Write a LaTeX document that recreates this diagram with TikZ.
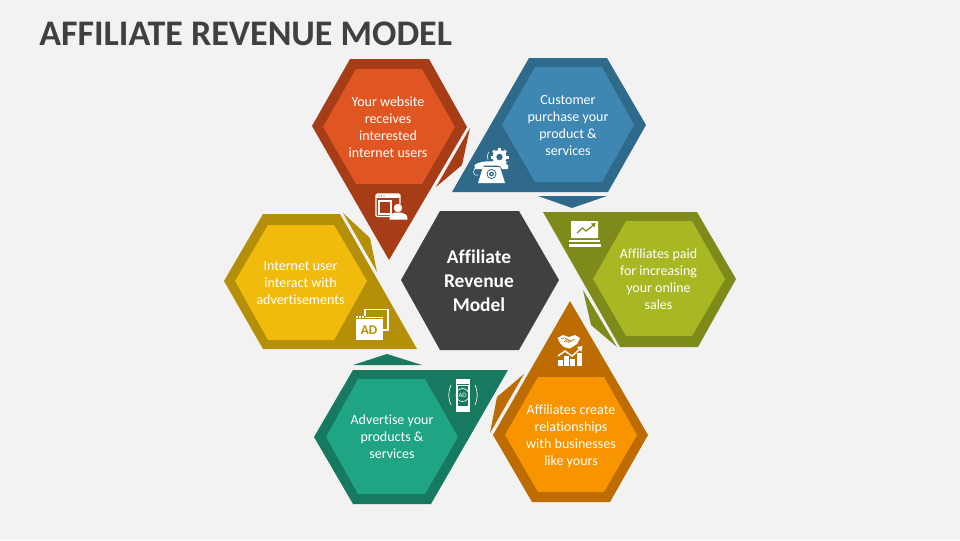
\documentclass[tikz,border=0pt]{standalone}
\usepackage{fontspec}
\setmainfont[Ligatures=NoCommon]{Carlito}
\usetikzlibrary{positioning}
\definecolor{pagebg}{HTML}{F2F2F2}
\definecolor{inkgrey}{HTML}{404040}
\definecolor{redouter}{HTML}{A63D17}
\definecolor{redinner}{HTML}{E05623}
\definecolor{blueouter}{HTML}{2F6A8B}
\definecolor{blueinner}{HTML}{3F87B3}
\definecolor{oliveouter}{HTML}{7E8A1A}
\definecolor{oliveinner}{HTML}{A8B825}
\definecolor{orangeouter}{HTML}{BC6C00}
\definecolor{orangeinner}{HTML}{F79400}
\definecolor{greenouter}{HTML}{177A60}
\definecolor{greeninner}{HTML}{1FA583}
\definecolor{yellowouter}{HTML}{B58F08}
\definecolor{yellowinner}{HTML}{F0BB0C}
\tikzset{
    hex label/.style={
        text=white,align=center,inner sep=0pt,
        font=\fontsize{10.5}{12.75}\selectfont
    },
    centre label/.style={
        text=white,align=center,inner sep=0pt,
        font=\fontsize{14.6}{18}\selectfont\bfseries
    },
    icon line/.style={draw=white,line width=.8pt,fill=none},
}

\begin{document}
\begin{tikzpicture}[x=.75pt,y=-.75pt]
    \useasboundingbox (0,0) rectangle (960,540);
    \fill[pagebg] (0,0) rectangle (960,540);
    \node[anchor=west,inner sep=0pt,text=inkgrey,font=\fontsize{27}{32}\selectfont\bfseries] (title) at (39,34) {AFFILIATE REVENUE MODEL};
    % centre
    \fill[inkgrey] (440,211) -- (519,211) -- (559,280) -- (519,350) -- (440,350) -- (401,280) -- cycle;
    \node[centre label] (centre) at (479,281) {Affiliate\\Revenue\\Model};
    % red
    \fill[redouter] (350,59) -- (429,59) -- (467,127) -- (389,260) -- (312,126) -- cycle;
    \fill[redinner] (356,69) -- (422,69) -- (455,127) -- (422,184) -- (356,184) -- (323,127) -- cycle;
    \fill[redouter] (470,128) -- (462,165) -- (436,187) -- cycle;
    \node[hex label] (website) at (388,127.5) {Your website\\receives\\interested\\internet users};
    % blue
    \fill[blueouter] (529,58) -- (607,58) -- (646,125) -- (608,192) -- (452,192) -- cycle;
    \fill[blueinner] (535,67) -- (602,67) -- (634,125) -- (602,182) -- (535,182) -- (502,125) -- cycle;
    \fill[blueouter] (538,196) -- (607,196) -- (572,208) -- cycle;
    \node[hex label] (customer) at (568,125.5) {Customer\\purchase your\\product \&\\services};
    % olive
    \fill[oliveouter] (543,212) -- (697,212) -- (736,279) -- (698,347) -- (620,347) -- cycle;
    \fill[oliveinner] (626,221) -- (692,221) -- (725,279) -- (692,336) -- (626,336) -- (593,279) -- cycle;
    \fill[oliveouter] (583,290) -- (617,347) -- (591,325) -- cycle;
    \node[hex label] (paid) at (658.5,279.5) {Affiliates paid\\for increasing\\your online\\sales};
    % orange
    \fill[orangeouter] (570,301) -- (648,435) -- (610,502) -- (532,502) -- (493,435) -- cycle;
    \fill[orangeinner] (538,377) -- (604,377) -- (637,435) -- (604,492) -- (538,492) -- (505,435) -- cycle;
    \fill[orangeouter] (524,374) -- (490,433) -- (497,397) -- cycle;
    \node[hex label] (relations) at (571,436) {Affiliates create\\relationships\\with businesses\\like yours};
    % green
    \fill[greenouter] (353,370) -- (508,370) -- (431,504) -- (353,504) -- (314,437) -- cycle;
    \fill[greeninner] (358,379) -- (425,379) -- (458,437) -- (425,494) -- (358,494) -- (326,437) -- cycle;
    \fill[greenouter] (353,365) -- (422,365) -- (387,354) -- cycle;
    \node[hex label] (advertise) at (392,437) {Advertise your\\products \&\\services};
    % yellow
    \fill[yellowouter] (263,214) -- (340,214) -- (417,349) -- (263,349) -- (224,281) -- cycle;
    \fill[yellowinner] (268,225) -- (334,225) -- (367,281) -- (334,340) -- (268,340) -- (235,281) -- cycle;
    \fill[yellowouter] (343,213) -- (377,272) -- (370,238) -- cycle;
    \node[hex label] (interact) at (300.5,283) {Internet user\\interact with\\advertisements};
    % icon: browser and user
    \draw[icon line,rounded corners=1pt,line width=1pt] (400,216.5) -- (376,216.5) -- (376,194) -- (400,194) -- (400,204);
    \fill[white] (376,194) rectangle (400,198);
    \foreach \i in {0,1,2}
        \fill[redouter] (379+2.5*\i,196) circle (.7);
    \draw[icon line] (379,201) rectangle (391,214);
    \fill[redouter] (393,205) rectangle (410,220);
    \fill[white] (398,208) circle (4.2);
    \fill[white] (389.5,219.5) -- (389.5,216) .. controls (390,213.5) and (394,213.5) .. (395,212.5) -- (401,212.5) .. controls (402,213.5) and (406,213.5) .. (407,216) -- (407.5,219.5) -- cycle;
    % icon: phone and gear
    \foreach \a in {0,45,...,315}
        \fill[white,rotate around={\a:(499.5,157)}] (498,148) rectangle (501,152);
    \fill[white] (499.5,157) circle (7);
    \fill[blueouter] (499.5,157) circle (3.2);
    \fill[white] (474.5,165) .. controls (480,160) and (500,160) .. (508,165) -- (508,169) -- (502,169) -- (500,165.5) -- (484,165.5) -- (482,169) -- (475,169) -- cycle;
    \fill[white] (483,167) -- (500,167) -- (505,183) -- (478,183) -- cycle;
    \fill[blueouter] (491.5,174) circle (5);
    \fill[white] (491.5,174) circle (4);
    \fill[blueouter] (491.5,174) circle (2.4);
    \fill[white] (491.5,174) circle (1);
    \draw[icon line,line width=.4pt] (475,168) .. controls (472,173) and (474,176) .. (478,175);
    \draw[icon line,line width=.4pt] (489,152) .. controls (487,155) and (487,157) .. (488,160);
    % icon: laptop with chart
    \fill[white,rounded corners=.5pt] (571,221) rectangle (598,238);
    \draw[oliveouter,line width=.9pt] (577,233) -- (582.5,228) -- (586,231) -- (593.5,225);
    \fill[oliveouter] (595.5,223) -- (591,223.5) -- (594.5,227.5) -- cycle;
    \fill[white] (569,239.5) rectangle (600,242);
    \fill[white] (569,244) rectangle (601,246.5);
    % icon: handshake and bars
    \fill[white] (557.5,338) -- (563,335) -- (569,337) -- (575,335) -- (580,338) -- (577,344) -- (570,348.5) -- (564,347) -- (560,343) -- cycle;
    \draw[orangeouter,line width=.5pt] (561,338.5) -- (565,338) -- (571,341.5) -- (575,339);
    \foreach \x in {0,1,2}
        \draw[orangeouter,line width=.45pt] (564+2*\x,342+.5*\x) -- (567+2*\x,339.5+.5*\x);
    \draw[white,line width=1.1pt] (558,356) -- (565,351) -- (572,356) -- (580,349);
    \fill[white] (582.5,346) -- (577,347) -- (581.5,351.5) -- cycle;
    \foreach \x/\y in {557.5/360,563.5/355.5,570/358.5,576.5/353}
        \fill[white] (\x,\y) rectangle ++(5,366-\y);
    % icon: mobile with AD
    \fill[white] (455.5,379) rectangle (470,412);
    \fill[greenouter] (456.5,384) rectangle (469,407);
    \draw[icon line,line width=.5pt] (457.5,385) rectangle (468,406);
    \draw[icon line,line width=.5pt] (462.5,395) circle (6.5);
    \node[text=white,inner sep=0pt,font=\fontsize{5}{5}\selectfont] (mobilead) at (462.5,395) {AD};
    \draw[icon line,line width=.5pt] (451,385) .. controls (448,392) and (448,398) .. (451,405);
    \draw[icon line,line width=.5pt] (475,385) .. controls (478,392) and (478,398) .. (475,405);
    % icon: AD window
    \draw[icon line,line width=1pt] (365,316) -- (365,309.5) -- (388,309.5) -- (388,330) -- (383,330);
    \fill[white] (355.5,319) rectangle (383,339.5);
    \fill[white] (365,316.5) rectangle (383,317.5);
    \foreach \i in {0,1,2}
        \fill[white] (356+3*\i,316) rectangle ++(1.8,1.8);
    \node[text=yellowouter,inner sep=0pt,font=\fontsize{10}{10}\selectfont\bfseries] (windowad) at (369,330) {AD};
\end{tikzpicture}
\end{document}
